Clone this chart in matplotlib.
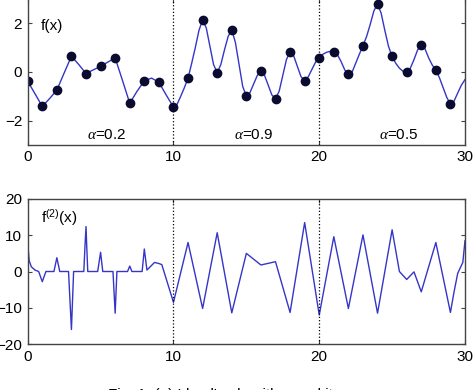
import numpy as np
import matplotlib.pyplot as plt

plt.rcParams['font.family'] = ['Liberation Sans', 'DejaVu Sans']
plt.rcParams['mathtext.fontset'] = 'custom'
plt.rcParams['mathtext.it'] = 'Liberation Serif:italic'

# sample points (dots)
sample_x = list(range(0, 30))
sample_y = [-0.39, -1.42, -0.75, 0.64, -0.07, 0.22, 0.57, -1.29, -0.37, -0.43,
            -1.45, -0.26, 2.13, -0.04, 1.72, -1.00, 0.02, -1.10, 0.83, -0.36,
            0.57, 0.83, -0.10, 1.07, 2.79, 0.63, -0.02, 1.11, 0.08, -1.33]

# f(x) curve
curve_x = [0, 0.5, 1, 1.5, 2, 2.5, 3, 3.5, 4, 4.5, 5, 5.5, 6, 6.5, 7, 7.5, 8, 8.5, 9, 9.5,
           10, 10.25, 10.5, 10.75, 11, 11.25, 11.5, 11.75, 12, 12.25, 12.5, 12.75,
           13, 13.25, 13.5, 13.75, 14, 14.25, 14.5, 14.75, 15, 15.25, 15.5, 15.75,
           16, 16.25, 16.5, 16.75, 17, 17.25, 17.5, 17.75, 18, 18.25, 18.5, 18.75,
           19, 19.25, 19.5, 19.75, 20, 20.25, 20.5, 20.75, 21, 21.25, 21.5, 21.75,
           22, 22.25, 22.5, 22.75, 23, 23.25, 23.5, 23.75, 24, 24.25, 24.5, 24.75,
           25, 25.25, 25.5, 25.75, 26, 26.25, 26.5, 26.75, 27, 27.25, 27.5, 27.75,
           28, 28.25, 28.5, 28.75, 29, 29.25, 29.5, 29.75, 30]
curve_y = [-0.39, -0.9, -1.42, -1.1, -0.75, -0.05, 0.64, 0.3, -0.07, 0.08, 0.22, 0.4,
           0.57, -0.35, -1.29, -0.8, -0.37, -0.26, -0.43, -0.95,
           -1.45, -1.33, -1.0, -0.65, -0.26, 0.35, 1.0, 1.7, 2.13, 1.8, 1.05, 0.3,
           -0.04, 0.3, 0.9, 1.45, 1.72, 1.2, 0.3, -0.6, -1.0, -0.85, -0.5, -0.15,
           0.02, -0.15, -0.55, -0.95, -1.1, -0.8, -0.15, 0.5, 0.83, 0.65, 0.22, -0.2,
           -0.36, -0.2, 0.1, 0.4, 0.57, 0.72, 0.8, 0.84, 0.83, 0.7, 0.42, 0.08,
           -0.1, -0.02, 0.35, 0.72, 1.07, 1.45, 1.95, 2.5, 2.79, 2.4, 1.7, 1.05,
           0.63, 0.35, 0.15, 0.02, -0.02, 0.15, 0.5, 0.9, 1.11, 0.95, 0.58, 0.28,
           0.08, -0.25, -0.65, -1.05, -1.33, -1.2, -0.87, -0.55, -0.32]

# second derivative f''(x)
d2_x = [0, 0.1, 0.25, 0.5, 0.75, 1, 1.25, 1.8, 2, 2.2, 2.8, 3, 3.15, 3.85, 3.93, 4,
        4.05, 4.12, 4.8, 5, 5.15, 5.85, 6, 6.12, 6.85, 7, 7.15, 7.85, 8, 8.18, 8.7,
        9.0, 9.2, 10, 11, 12, 13, 14, 15, 16, 17, 18, 19, 20, 21, 22, 23, 24, 25,
        25.5, 26, 26.5, 27, 28, 29, 29.25, 29.5, 29.85, 30]
d2_y = [8, 3, 1.3, 0.4, 0, -2.8, 0, 0, 3.8, 0, 0, -16, 0, 0, 7, 12.4,
        7, 0, 0, 5.3, 0, 0, -11.5, 0, 0, 1.5, 0, 0, 6.2, 0.4, 2.5,
        2.2, 1.9, -8.5, 8.0, -10.2, 10.7, -11.4, 5.0, 1.8, 2.7, -11.3, 13.5, -12.0, 9.6, -10.2, 10.1, -11.5, 11.5,
        0, -2.2, -0.1, -5.6, 8.0, -11.3, -5.6, -0.5, 2.5, 8.5]

alpha_labels = ['$\\alpha$=0.2', '$\\alpha$=0.9', '$\\alpha$=0.5']
alpha_pos = [5.45, 15.5, 25.45]
breaks = [10, 20]

line_col = '#3535c8'
fig = plt.figure(figsize=(4.74, 3.9), dpi=100)

ax1 = fig.add_axes([27.7/474, 1 - 144.9/390, 437.3/474, 146.2/390])
ax1.plot(curve_x, curve_y, color=line_col, lw=1.0)
ax1.plot(sample_x, sample_y, 'o', color='#0b0b30', ms=6)
for b in breaks:
    ax1.axvline(b, color='k', ls=':', lw=0.9)
for lab, xp in zip(alpha_labels, alpha_pos):
    ax1.text(xp, -2.6, lab, ha='center', va='center', fontsize=11)
ax1.text(0.9, 1.9, 'f(x)', ha='left', va='center', fontsize=11)
ax1.set_xlim(0, 30)
ax1.set_ylim(-3, 3)
ax1.set_xticks([0, 10, 20, 30])
ax1.set_yticks([-2, 0, 2])

ax2 = fig.add_axes([27.7/474, 1 - 344/390, 437.3/474, 145/390])
ax2.plot(d2_x, d2_y, color=line_col, lw=1.0)
for b in breaks:
    ax2.axvline(b, color='k', ls=':', lw=0.9)
ax2.text(0.9, 14.8, '$\\mathregular{f^{(2)}(x)}$', ha='left', va='center', fontsize=11)
ax2.set_xlim(0, 30)
ax2.set_ylim(-20, 20)
ax2.set_xticks([0, 10, 20, 30])
ax2.set_yticks([-20, -10, 0, 10, 20])

for ax in (ax1, ax2):
    ax.tick_params(direction='in', top=True, right=True, length=3, width=0.8,
                   labelsize=11, pad=4, color='#444444')
    for s in ax.spines.values():
        s.set_color('#444444')
        s.set_linewidth(1.0)

# caption, mostly cut off by the bottom edge as in the source
fig.text(108/474, 1 - 387.8/390, "Fig. 1. (a) Lloyd's algorithm and its", fontsize=11,
         ha='left', va='top')

fig.savefig('out.png', dpi=100)
